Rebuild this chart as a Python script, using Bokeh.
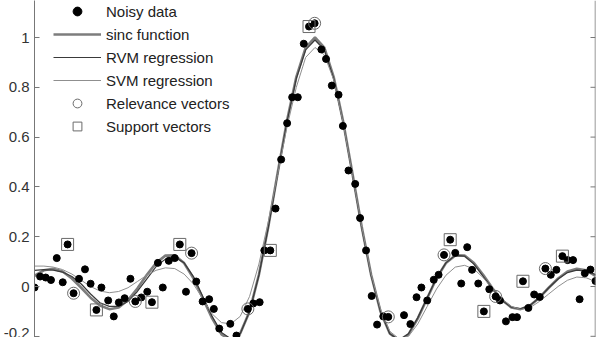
import numpy as np
from bokeh.plotting import figure
from bokeh.models import (Range1d, Legend, LegendItem, FixedTicker, Span,
                          CustomJSTickFormatter)
from bokeh.embed import file_html
from bokeh.resources import INLINE

# Noisy training samples
noisy_x = [-15.00, -14.70, -14.40, -14.12, -13.81, -13.49, -13.23, -12.91, -12.62, -12.30,
           -12.00, -11.69, -11.42, -11.06, -10.76, -10.49, -10.18, -9.87, -9.61, -9.29,
           -8.97, -8.72, -8.40, -8.14, -7.82, -7.50, -7.23, -6.90, -6.60, -6.35,
           -6.01, -5.66, -5.41, -5.12, -4.53, -4.20, -3.59, -3.30, -2.96, -2.71,
           -2.39, -2.11, -1.81, -1.49, -1.22, -0.92, -0.60, -0.32, -0.02, 0.34,
           0.59, 0.90, 1.26, 1.49, 1.79, 2.15, 2.41, 2.73, 3.03, 3.32,
           3.65, 3.92, 4.76, 5.10, 5.43, 5.69, 6.00, 6.35, 6.61, 6.90,
           7.23, 7.50, 7.82, 8.14, 8.40, 8.73, 9.03, 9.32, 9.66, 9.89,
           10.21, 10.56, 10.80, 11.12, 11.41, 11.72, 12.02, 12.32, 12.61, 12.91,
           13.23, 13.51, 13.80, 14.15, 14.43, 14.73, 15.00]
noisy_y = [-0.004, 0.040, 0.036, 0.026, 0.114, 0.017, 0.169, -0.027, 0.031, 0.069,
           0.011, -0.094, -0.004, -0.056, -0.120, -0.064, -0.047, 0.031, -0.060, -0.044,
           -0.021, -0.063, 0.095, -0.004, 0.103, 0.114, 0.169, -0.021, 0.134, 0.020,
           -0.060, -0.051, -0.090, -0.169, -0.150, -0.197, -0.090, -0.068, -0.063, 0.145,
           0.145, 0.313, 0.510, 0.656, 0.760, 0.760, 0.975, 1.044, 1.057, 0.952,
           0.914, 0.807, 0.770, 0.645, 0.466, 0.412, 0.275, 0.145, -0.038, -0.153,
           -0.120, -0.122, -0.115, -0.151, -0.043, -0.004, -0.056, 0.027, 0.047, 0.127,
           0.188, 0.135, 0.012, 0.158, 0.067, 0.012, -0.100, -0.011, -0.040, -0.056,
           -0.140, -0.123, -0.123, 0.021, -0.086, -0.032, -0.042, 0.072, 0.047, 0.067,
           0.122, 0.106, 0.106, -0.051, 0.053, 0.068, 0.022]

# Samples kept by each model
relevance_idx = [7, 18, 28, 36, 48, 61, 69, 78, 87]
support_idx = [6, 11, 21, 26, 40, 47, 70, 76, 83, 90]

# Curves sampled on a regular grid over [-15, 15]
curve_x = np.linspace(-15, 15, 61)
sinc_y = [0.043, 0.065, 0.071, 0.060, 0.032, -0.005, -0.045, -0.076, -0.091, -0.084,
          -0.054, -0.008, 0.046, 0.094, 0.124, 0.125, 0.094, 0.033, -0.047, -0.128,
          -0.192, -0.217, -0.189, -0.100, 0.047, 0.239, 0.455, 0.665, 0.841, 0.959,
          1.000,
          0.959, 0.841, 0.665, 0.455, 0.239, 0.047, -0.100, -0.189, -0.217, -0.192,
          -0.128, -0.047, 0.033, 0.094, 0.125, 0.124, 0.094, 0.046, -0.008, -0.054,
          -0.084, -0.091, -0.076, -0.045, -0.005, 0.032, 0.060, 0.071, 0.065, 0.043]
rvm_y = [0.065, 0.068, 0.066, 0.058, 0.040, 0.010, -0.030, -0.065, -0.080, -0.080,
         -0.060, -0.020, 0.030, 0.080, 0.110, 0.118, 0.095, 0.040, -0.040, -0.120,
         -0.185, -0.210, -0.190, -0.100, 0.045, 0.235, 0.450, 0.660, 0.835, 0.950,
         0.990,
         0.950, 0.835, 0.660, 0.450, 0.235, 0.045, -0.100, -0.190, -0.215, -0.190,
         -0.125, -0.045, 0.035, 0.095, 0.125, 0.122, 0.090, 0.040, -0.010, -0.055,
         -0.083, -0.090, -0.075, -0.045, -0.005, 0.030, 0.056, 0.066, 0.062, 0.048]
svm_y = [0.082, 0.082, 0.078, 0.068, 0.050, 0.025, 0.000, -0.018, -0.025, -0.020,
         -0.005, 0.020, 0.045, 0.065, 0.075, 0.072, 0.050, 0.010, -0.050, -0.110,
         -0.145, -0.150, -0.120, -0.040, 0.090, 0.260, 0.450, 0.640, 0.800, 0.920,
         0.960,
         0.930, 0.830, 0.660, 0.450, 0.240, 0.050, -0.090, -0.180, -0.210, -0.200,
         -0.150, -0.080, -0.010, 0.045, 0.078, 0.085, 0.070, 0.035, -0.010, -0.050,
         -0.080, -0.092, -0.085, -0.060, -0.030, 0.000, 0.025, 0.038, 0.035, 0.020]

y_ticks = [-0.2, 0.0, 0.2, 0.4, 0.6, 0.8, 1.0]
x_max = 15

FONT = "Liberation Sans"
AXIS_GRAY = "#777777"

p = figure(width=600, height=337,
           x_range=Range1d(-15, x_max), y_range=Range1d(-0.2048, 1.1486),
           output_backend="svg", toolbar_location=None, x_axis_location=None,
           min_border_left=31, min_border_right=5, min_border_top=0, min_border_bottom=0)
p.grid.visible = False
p.outline_line_color = None
p.background_fill_color = "white"
p.border_fill_color = "white"

fmt = CustomJSTickFormatter(code="return String(Math.round(tick * 10) / 10);")
yax = p.yaxis[0]
yax.ticker = FixedTicker(ticks=y_ticks)
yax.formatter = fmt
yax.major_tick_in = 5
yax.major_tick_out = 0
yax.minor_tick_in = 0
yax.minor_tick_out = 0
yax.axis_line_color = AXIS_GRAY
yax.major_tick_line_color = AXIS_GRAY
yax.major_label_text_font = FONT
yax.major_label_text_font_size = "15px"
yax.major_label_text_color = "#333333"
yax.major_label_standoff = 5

# Right-hand box edge with inward ticks (no labels)
p.add_layout(Span(location=x_max, dimension="height", line_color=AXIS_GRAY, line_width=1.5))
p.ray(x=[x_max] * len(y_ticks), y=y_ticks, length=5, length_units="screen",
      angle=np.pi, line_color=AXIS_GRAY, line_width=1)

r_sinc = p.line(curve_x, sinc_y, line_width=2.6, line_color="#7d7d7d")
r_rvm = p.line(curve_x, rvm_y, line_width=1.2, line_color="#3a3a3a")
r_svm = p.line(curve_x, svm_y, line_width=1.0, line_color="#8f8f8f")

r_dots = p.scatter(noisy_x, noisy_y, size=7, color="black")
r_rv = p.scatter([noisy_x[i] for i in relevance_idx], [noisy_y[i] for i in relevance_idx],
                 marker="circle", size=12, fill_color=None, line_color="#6a6a6a", line_width=1)
r_sv = p.scatter([noisy_x[i] for i in support_idx], [noisy_y[i] for i in support_idx],
                 marker="square", size=12, fill_color=None, line_color="#6a6a6a", line_width=1)

legend = Legend(items=[
    LegendItem(label="Noisy data", renderers=[r_dots]),
    LegendItem(label="sinc function", renderers=[r_sinc]),
    LegendItem(label="RVM regression", renderers=[r_rvm]),
    LegendItem(label="SVM regression", renderers=[r_svm]),
    LegendItem(label="Relevance vectors", renderers=[r_rv]),
    LegendItem(label="Support vectors", renderers=[r_sv]),
], location=(19, 200), padding=0, margin=0, border_line_alpha=0, background_fill_alpha=0,
    glyph_width=48, glyph_height=22, label_height=22, spacing=1, label_standoff=5,
    label_text_font=FONT, label_text_font_size="15px", label_text_color="#222222")
p.add_layout(legend)

open("out.html", "w").write(file_html(p, INLINE))
